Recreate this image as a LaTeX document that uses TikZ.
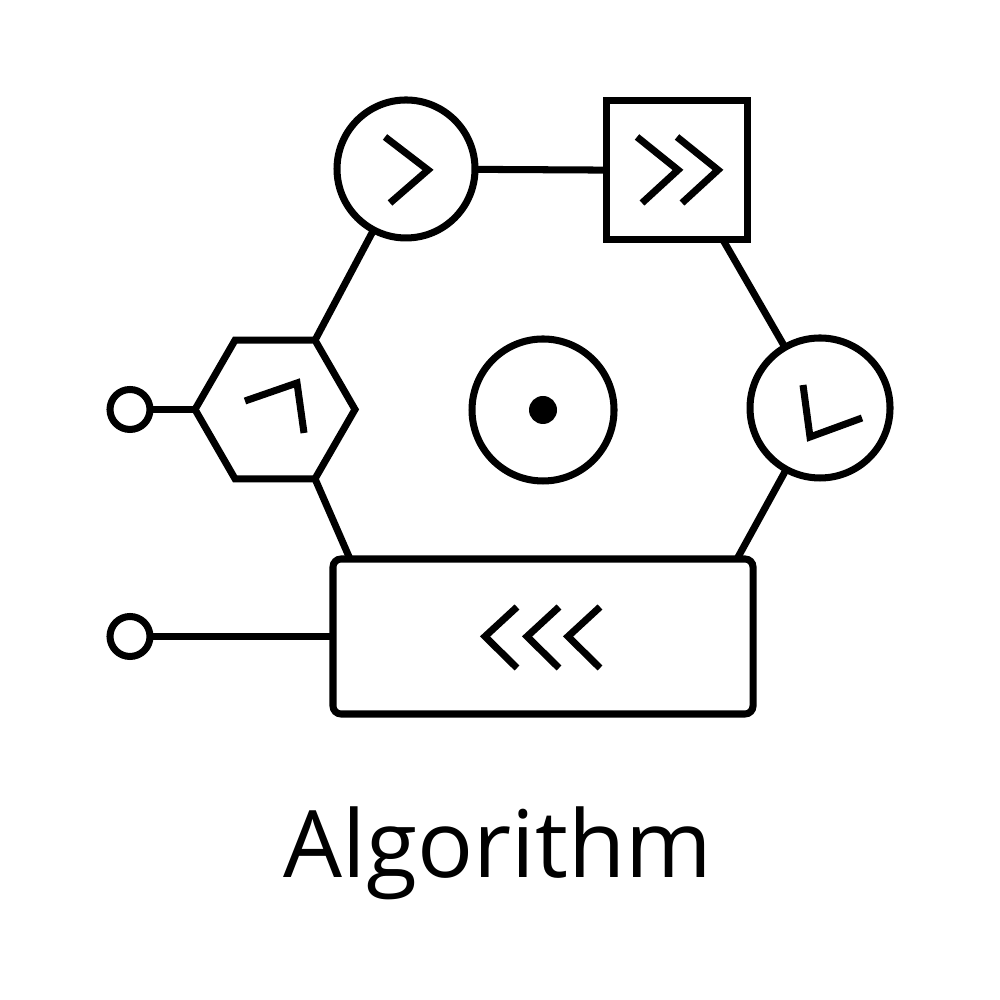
\documentclass[tikz,border=0pt]{standalone}
\usepackage{fontspec}
\setmainfont{Open Sans}
\usetikzlibrary{calc}
\usetikzlibrary{shapes.geometric}
\usetikzlibrary{positioning}

\begin{document}
\begin{tikzpicture}[line width=2pt,
		blk/.style={draw,inner sep=0pt,outer sep=0pt},
		rnd/.style={blk,circle,minimum size=#1},
		hexa/.style={blk,regular polygon,regular polygon sides=6,minimum size=1.6cm},
		sign/.style={line width=2pt}]
		\useasboundingbox (0,0) rectangle (10,10);
		% blocks
		\node[rnd=1.38cm] (gt) at (4.06,8.31) {};
		\node[blk,minimum width=1.41cm,minimum height=1.39cm] (gg) at (6.765,8.295) {};
		\node[hexa] (hx) at (2.75,5.905) {};
		\node[rnd=1.42cm] (mid) at (5.43,5.9) {};
		\node[rnd=1.40cm] (rt) at (8.20,5.92) {};
		\node[blk,rounded corners=0.08cm,minimum width=4.2cm,minimum height=1.55cm] (ll) at (5.43,3.635) {};
		\node[rnd=0.40cm] (in1) at (1.30,5.905) {};
		\node[rnd=0.40cm] (in2) at (1.30,3.635) {};
		% signs
		\draw[sign] ($(gt)+(-0.21,0.32)$) -- ++(0.43,-0.33) -- ++(-0.38,-0.33);
		\draw[sign] ($(gg)+(-0.395,0.335)$) -- ++(0.41,-0.33) -- ++(-0.36,-0.33);
		\draw[sign] ($(gg)+(0.005,0.335)$) -- ++(0.41,-0.33) -- ++(-0.36,-0.33);
		\draw[sign] ($(hx)+(-0.30,0.085)$) -- ++(0.52,0.18) -- ++(0.07,-0.50);
		\fill (mid) circle (0.14);
		\draw[sign] ($(rt)+(-0.17,0.23)$) -- ++(0.07,-0.52) -- ++(0.52,0.19);
		\foreach \dx in {0,0.42,0.83}
			\draw[sign] ($(ll)+(-0.26+\dx,0.295)$) -- ++(-0.32,-0.295) -- ++(0.32,-0.315);
		% links
		\draw (gt) -- (gg);
		\draw (gt) -- (hx.corner 1);
		\draw (rt) -- ([xshift=4.65mm]gg.south);
		\draw (rt) -- ([xshift=19.4mm]ll.north);
		\draw (hx.corner 5) -- ([xshift=-19.3mm]ll.north);
		\draw (in1) -- (hx.corner 3);
		\draw (in2) -- (ll.west);
		\node[anchor=base,font=\fontsize{26.5}{30}\selectfont] (cap) at (4.98,1.22) {Algorithm};
	\end{tikzpicture}
\end{document}
